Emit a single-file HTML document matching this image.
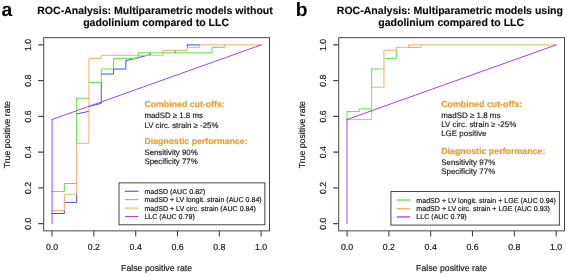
<!DOCTYPE html>
<html lang="en"><head><meta charset="utf-8"><title>ROC-Analysis</title>
<style>
html,body{margin:0;padding:0;background:#fff;}
body{width:567px;height:275px;overflow:hidden;}
svg{display:block;font-family:"Liberation Sans",Arial,Helvetica,sans-serif;}
text{stroke-linejoin:round;text-rendering:geometricPrecision;}
.ax{font-size:8.75px;fill:#1a1a1a;stroke:#1a1a1a;stroke-width:0.18px;}
.pl{font-size:19.3px;font-weight:bold;fill:#000;}
.ti{font-size:10.55px;font-weight:bold;fill:#0a0a0a;stroke:#0a0a0a;stroke-width:0.12px;}
.hd{font-size:8.85px;font-weight:bold;fill:#ef9d2c;stroke:#ef9d2c;stroke-width:0.15px;}
.an{font-size:7.98px;fill:#1a1a1a;stroke:#1a1a1a;stroke-width:0.16px;}
.h1{font-size:8.78px;}
.a1{font-size:7.87px;}
.lg{font-size:7.09px;fill:#1a1a1a;stroke:#1a1a1a;stroke-width:0.18px;}
</style></head><body>
<svg width="567" height="275" viewBox="0 0 567 275">
<rect width="567" height="275" fill="#fff"/>
<g id="panel-a">
<rect x="43.70" y="37.65" width="225.80" height="193.20" fill="none" stroke="#484848" stroke-width="1"/>
<path d="M38.20,223.60 H43.70 M52.05,230.85 V236.55 M38.20,187.86 H43.70 M93.87,230.85 V236.55 M38.20,152.12 H43.70 M135.69,230.85 V236.55 M38.20,116.38 H43.70 M177.51,230.85 V236.55 M38.20,80.64 H43.70 M219.33,230.85 V236.55 M38.20,44.90 H43.70 M261.15,230.85 V236.55" fill="none" stroke="#484848" stroke-width="1.1"/>
<text transform="translate(30.90,223.60) rotate(-90)" text-anchor="middle" class="ax">0.0</text>
<text x="52.05" y="250.2" text-anchor="middle" class="ax">0.0</text>
<text transform="translate(30.90,187.86) rotate(-90)" text-anchor="middle" class="ax">0.2</text>
<text x="93.87" y="250.2" text-anchor="middle" class="ax">0.2</text>
<text transform="translate(30.90,152.12) rotate(-90)" text-anchor="middle" class="ax">0.4</text>
<text x="135.69" y="250.2" text-anchor="middle" class="ax">0.4</text>
<text transform="translate(30.90,116.38) rotate(-90)" text-anchor="middle" class="ax">0.6</text>
<text x="177.51" y="250.2" text-anchor="middle" class="ax">0.6</text>
<text transform="translate(30.90,80.64) rotate(-90)" text-anchor="middle" class="ax">0.8</text>
<text x="219.33" y="250.2" text-anchor="middle" class="ax">0.8</text>
<text transform="translate(30.90,44.90) rotate(-90)" text-anchor="middle" class="ax">1.0</text>
<text x="261.15" y="250.2" text-anchor="middle" class="ax">1.0</text>
<text transform="translate(9.50,134.7) rotate(-90)" text-anchor="middle" class="ax">True positive rate</text>
<text x="156.60" y="270.9" text-anchor="middle" class="ax">False positive rate</text>
<path d="M52.05,213.50 L64.35,213.50 L64.35,210.50 M64.35,202.40 L76.65,202.40 L76.65,194.20 M76.65,114.00 L88.95,111.30 M88.95,106.40 L101.25,103.40 L101.25,82.40 M101.25,74.00 L113.55,74.00 L113.55,69.00 L125.85,69.00 L125.85,60.70 L150.45,54.50 L150.45,52.80 M175.05,50.40 L175.05,52.80 M187.35,44.90 L187.35,47.30 M187.35,44.90 L199.65,44.90" fill="none" stroke="#4250f3" stroke-width="1.0" stroke-linejoin="miter" stroke-linecap="square"/>
<path d="M52.05,191.60 L64.35,191.60 L64.35,183.50 L76.65,183.50 M76.65,98.20 L76.65,143.30 M76.65,98.20 L88.95,98.20 M88.95,82.40 L101.25,82.40 L101.25,69.00 L113.55,69.00 L113.55,58.40 L138.15,58.40 L138.15,52.80 L211.95,52.80 L211.95,47.30 L224.25,47.30 L224.25,44.90" fill="none" stroke="#58ea46" stroke-width="1.0" stroke-linejoin="miter" stroke-linecap="square"/>
<path d="M52.05,210.50 L64.35,210.50 L64.35,194.20 L76.65,194.20 L76.65,143.30 L88.95,143.30 L88.95,58.40 L101.25,58.40 L101.25,55.30 L162.75,55.30 L162.75,50.40 L187.35,50.40 L187.35,47.30 L199.65,47.30 L199.65,44.90 L261.15,44.90" fill="none" stroke="#f6af64" stroke-width="1.0" stroke-linejoin="miter" stroke-linecap="square"/>
<path d="M52.05,119.50 L52.05,223.60 M52.05,119.50 L261.15,44.90" fill="none" stroke="#a642f1" stroke-width="1.0" stroke-linejoin="miter" stroke-linecap="square"/>
</g>
<g id="panel-b">
<rect x="338.70" y="37.65" width="225.80" height="193.20" fill="none" stroke="#484848" stroke-width="1"/>
<path d="M333.20,223.60 H338.70 M347.05,230.85 V236.55 M333.20,187.86 H338.70 M388.87,230.85 V236.55 M333.20,152.12 H338.70 M430.69,230.85 V236.55 M333.20,116.38 H338.70 M472.51,230.85 V236.55 M333.20,80.64 H338.70 M514.33,230.85 V236.55 M333.20,44.90 H338.70 M556.15,230.85 V236.55" fill="none" stroke="#484848" stroke-width="1.1"/>
<text transform="translate(325.90,223.60) rotate(-90)" text-anchor="middle" class="ax">0.0</text>
<text x="347.05" y="250.2" text-anchor="middle" class="ax">0.0</text>
<text transform="translate(325.90,187.86) rotate(-90)" text-anchor="middle" class="ax">0.2</text>
<text x="388.87" y="250.2" text-anchor="middle" class="ax">0.2</text>
<text transform="translate(325.90,152.12) rotate(-90)" text-anchor="middle" class="ax">0.4</text>
<text x="430.69" y="250.2" text-anchor="middle" class="ax">0.4</text>
<text transform="translate(325.90,116.38) rotate(-90)" text-anchor="middle" class="ax">0.6</text>
<text x="472.51" y="250.2" text-anchor="middle" class="ax">0.6</text>
<text transform="translate(325.90,80.64) rotate(-90)" text-anchor="middle" class="ax">0.8</text>
<text x="514.33" y="250.2" text-anchor="middle" class="ax">0.8</text>
<text transform="translate(325.90,44.90) rotate(-90)" text-anchor="middle" class="ax">1.0</text>
<text x="556.15" y="250.2" text-anchor="middle" class="ax">1.0</text>
<text transform="translate(304.50,134.7) rotate(-90)" text-anchor="middle" class="ax">True positive rate</text>
<text x="451.60" y="270.9" text-anchor="middle" class="ax">False positive rate</text>
<path d="M347.05,111.60 L347.05,119.50 M347.05,111.60 L359.35,111.60 L359.35,108.90 L371.65,108.90 M371.65,69.00 L371.65,87.20 M371.65,69.00 L383.95,69.00 M383.95,58.40 L396.25,58.40 L396.25,50.20 M408.55,47.30 L420.85,47.30 L420.85,44.90" fill="none" stroke="#58ea46" stroke-width="1.0" stroke-linejoin="miter" stroke-linecap="square"/>
<path d="M347.05,119.60 L371.65,119.60 L371.65,87.20 L383.95,87.20 L383.95,50.20 L396.25,50.20 L396.25,47.30 L408.55,47.30 L408.55,44.90 L556.15,44.90" fill="none" stroke="#f6af64" stroke-width="1.0" stroke-linejoin="miter" stroke-linecap="square"/>
<path d="M347.05,119.50 L347.05,223.60 M347.05,119.50 L556.15,44.90" fill="none" stroke="#a642f1" stroke-width="1.0" stroke-linejoin="miter" stroke-linecap="square"/>
</g>
<text x="1.5" y="16.1" class="pl">a</text>
<text x="295.7" y="16.2" class="pl">b</text>
<text x="155.0" y="13.7" text-anchor="middle" class="ti">ROC-Analysis: Multiparametric models without</text>
<text x="156.1" y="25.9" text-anchor="middle" class="ti">gadolinium compared to LLC</text>
<text x="449.90" y="13.65" text-anchor="middle" class="ti">ROC-Analysis: Multiparametric models using</text>
<text x="451.20" y="25.9" text-anchor="middle" class="ti">gadolinium compared to LLC</text>
<text x="144.4" y="107.0" class="hd h1">Combined cut-offs:</text>
<text x="144.4" y="118.1" class="an a1">madSD ≥ 1.8 ms</text>
<text x="144.4" y="127.5" class="an a1">LV circ. strain ≥ -25%</text>
<text x="144.4" y="144.3" class="hd h1">Diagnostic performance:</text>
<text x="144.4" y="155.1" class="an a1">Sensitivity 90%</text>
<text x="144.4" y="164.3" class="an a1">Specificity 77%</text>
<text x="441.2" y="107.4" class="hd">Combined cut-offs:</text>
<text x="441.2" y="117.8" class="an">madSD ≥ 1.8 ms</text>
<text x="441.2" y="126.8" class="an">LV circ. strain ≥ -25%</text>
<text x="441.2" y="135.6" class="an">LGE positive</text>
<text x="441.2" y="153.9" class="hd">Diagnostic performance:</text>
<text x="441.2" y="164.8" class="an">Sensitivity 97%</text>
<text x="441.2" y="173.7" class="an">Specificity 77%</text>
<rect x="119.0" y="182.85" width="145.80" height="41.90" fill="#fff" stroke="#484848" stroke-width="1"/>
<line x1="124.9" y1="191.25" x2="138.3" y2="191.25" stroke="#4250f3" stroke-width="1.1"/>
<text x="144.4" y="193.85" class="lg">madSD (AUC 0.82)</text>
<line x1="124.9" y1="199.6" x2="138.3" y2="199.6" stroke="#58ea46" stroke-width="1.1"/>
<text x="144.4" y="202.20" class="lg">madSD + LV longit. strain (AUC 0.84)</text>
<line x1="124.9" y1="208.1" x2="138.3" y2="208.1" stroke="#f6af64" stroke-width="1.1"/>
<text x="144.4" y="210.70" class="lg">madSD + LV circ. strain (AUC 0.84)</text>
<line x1="124.9" y1="216.5" x2="138.3" y2="216.5" stroke="#a642f1" stroke-width="1.1"/>
<text x="144.4" y="219.10" class="lg">LLC (AUC 0.79)</text>
<rect x="390.9" y="191.5" width="168.50" height="33.60" fill="#fff" stroke="#484848" stroke-width="1"/>
<line x1="396.8" y1="200.0" x2="410.2" y2="200.0" stroke="#58ea46" stroke-width="1.3"/>
<text x="416.35" y="202.55" class="lg">madSD + LV longit. strain + LGE (AUC 0.94)</text>
<line x1="396.8" y1="208.7" x2="410.2" y2="208.7" stroke="#f6af64" stroke-width="1.3"/>
<text x="416.35" y="211.25" class="lg">madSD + LV circ. strain + LGE (AUC 0.93)</text>
<line x1="396.8" y1="216.9" x2="410.2" y2="216.9" stroke="#a642f1" stroke-width="1.3"/>
<text x="416.35" y="219.45" class="lg">LLC (AUC 0.79)</text>
</svg>
</body></html>
